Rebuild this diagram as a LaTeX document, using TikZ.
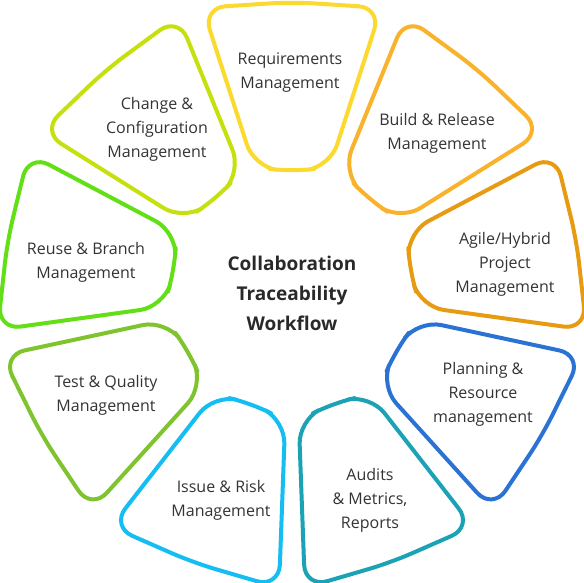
\documentclass[tikz,border=0pt]{standalone}
\usepackage{fontspec}
\setmainfont{Open Sans}
\usetikzlibrary{positioning}

\definecolor{reqyellow}{HTML}{FBD92E}
\definecolor{buildorange}{HTML}{F8B22B}
\definecolor{agileorange}{HTML}{E79B13}
\definecolor{planblue}{HTML}{2A72D4}
\definecolor{auditteal}{HTML}{1BA2B5}
\definecolor{issuecyan}{HTML}{14BDF2}
\definecolor{testgreen}{HTML}{7FC32F}
\definecolor{reusegreen}{HTML}{62DF16}
\definecolor{changelime}{HTML}{C5E00D}
\definecolor{textgray}{HTML}{333333}

\begin{document}
\begin{tikzpicture}[
        x=1pt, y=1pt,
        % Estilo para los petalos
        petal/.style={
                line width=4pt,
                rounded corners=23pt,
                line join=round
            },
        % Texto de cada area
        areatext/.style={
                align=center,
                font=\fontsize{16}{24}\selectfont,
                text=textgray
            },
        % Texto central
        centertext/.style={
                align=center,
                font=\bfseries\fontsize{19}{30}\selectfont,
                text=textgray!80!black
            }
    ]
    \useasboundingbox (-292,-292) rectangle (292,291);

    % PETALOS
    \foreach \ang/\col in {90/reqyellow, 50/buildorange, 10/agileorange,
            -30/planblue, -70/auditteal, -110/issuecyan,
            -150/testgreen, 170/reusegreen, 130/changelime}{
        \draw[petal, draw=\col] (\ang-17:130) -- (\ang-17.5:297) -- (\ang:289)
            -- (\ang+17.5:297) -- (\ang+17:130) -- (\ang:119) -- cycle;
    }

    % TEXTOS
    \node[areatext] (req) at (-2,218) {Requirements\\Management};
    \node[areatext] (build) at (145,158) {Build \& Release\\Management};
    \node[areatext] (agile) at (213,27) {Agile/Hybrid\\Project\\Management};
    \node[areatext] (plan) at (191,-103) {Planning \&\\Resource\\management};
    \node[areatext] (audit) at (78,-209) {Audits\\\& Metrics,\\Reports};
    \node[areatext] (issue) at (-71,-209) {Issue \& Risk\\Management};
    \node[areatext] (test) at (-186,-104) {Test \& Quality\\Management};
    \node[areatext] (reuse) at (-206,29) {Reuse \& Branch\\Management};
    \node[areatext] (change) at (-135,162) {Change \&\\Configuration\\Management};

    % CENTRO
    \node[centertext] (workflow) at (0,-2) {Collaboration\\Traceability\\Workflow};

\end{tikzpicture}
\end{document}
